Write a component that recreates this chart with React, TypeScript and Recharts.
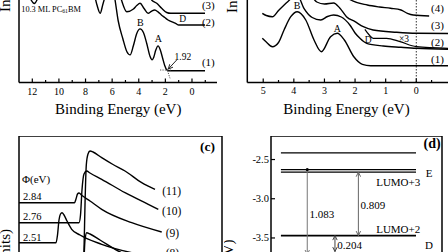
import React from 'react';
import { LineChart, Line, XAxis, YAxis, ReferenceLine, ReferenceDot } from 'recharts';

const SERIF = '"Liberation Serif", "DejaVu Serif", "Times New Roman", serif';
type P = [number, number];
const pts = (a: P[]) => a.map(([x, y]) => ({ x, y }));

// ---------- panel (a): binding energy (eV) vs intensity (arb.)
const aCurve1: P[] = [
  [-0.98, 0.59], [1.75, 0.59], [1.9, 0.64], [2.05, 0.85], [2.2, 1.2], [2.38, 1.62], [2.55, 1.83],
  [2.72, 1.62], [2.88, 1.25], [3.0, 1.13], [3.15, 1.3], [3.4, 1.95], [3.65, 2.5], [3.9, 2.68],
  [4.15, 2.45], [4.4, 1.85], [4.65, 1.38], [4.9, 1.55], [5.2, 2.2], [5.55, 3.1], [5.8, 4.2],
  [6.1, 5.1], [6.4, 4.6], [6.7, 3.9], [6.9, 3.46], [7.15, 3.9], [7.5, 4.9], [8.0, 5.6], [9.0, 6.1],
  [10.5, 5.6], [11.4, 4.5], [11.85, 3.95], [12.3, 4.4], [13.0, 5.6],
];
const aCurve2: P[] = [
  [-0.98, 2.875], [1.0, 2.875], [1.2, 2.94], [1.5, 3.03], [1.8, 3.125], [2.05, 3.25], [2.3, 3.375],
  [2.55, 3.53], [2.8, 3.625], [3.05, 3.56], [3.3, 3.46], [3.6, 3.7], [3.9, 3.96], [4.15, 3.85],
  [4.4, 3.675], [4.9, 3.54], [5.3, 4.125], [5.7, 5.1], [6.2, 6.0], [7.0, 5.4], [8.0, 6.5], [10, 7], [13, 7],
];
const aCurve3: P[] = [
  [-0.98, 3.46], [1.6, 3.46], [1.9, 3.5], [2.28, 3.71], [2.65, 3.96], [3.03, 4.125], [3.4, 4.6],
  [3.9, 5.2], [4.5, 5.0], [5.0, 5.6], [6.0, 7.0], [8, 7.5], [13, 7.5],
];
const aTicks = [-1, 0, 1, 2, 3, 4, 5, 6, 7, 8, 9, 10, 11, 12];
const aMajor = [0, 2, 4, 6, 8, 10, 12];
const aOnset = 1.92;

// ---------- panel (b)
const bCurve1: P[] = [
  [5.03, 2.21], [4.9, 2.025], [4.7, 1.79], [4.5, 2.0], [4.32, 2.625], [4.1, 3.29], [3.89, 3.54],
  [3.61, 3.125], [3.34, 2.125], [3.1, 1.54], [2.8, 2.29], [2.58, 2.46], [2.35, 2.125], [2.04, 1.29],
  [1.76, 0.91], [1.49, 0.84], [-1.04, 0.84],
];
const bCurve2: P[] = [
  [5.03, 3.46], [4.9, 3.35], [4.7, 3.29], [4.5, 3.6], [4.2, 4.04], [3.9, 4.4], [3.67, 3.71],
  [3.4, 3.25], [3.12, 3.125], [2.9, 3.3], [2.7, 3.375], [2.45, 3.275], [2.17, 2.875], [2.0, 2.475],
  [1.84, 2.21], [1.62, 1.96], [1.08, 1.825], [0.5, 1.76], [0, 1.71], [-1.04, 1.66],
];
const bCurve3: P[] = [
  [5.52, 5.5], [4.6, 5.3], [3.8, 4.9], [3.5, 4.5], [3.25, 4.025], [3.0, 3.925], [2.7, 3.975],
  [2.5, 3.725], [2.28, 3.29], [2.0, 3.04], [1.73, 2.79], [1.41, 2.625], [0.64, 2.51], [0, 2.46], [-1.04, 2.45],
];
const bCurve4: P[] = [
  [5.52, 6.5], [3.0, 5.5], [2.4, 4.4], [2.14, 4.125], [1.6, 3.875], [1.2, 3.775], [0.84, 3.71],
  [0.5, 3.625], [0.29, 3.46], [0.1, 3.375], [-0.42, 3.325],
];
const bTimes3: P[] = [
  [1.68, 2.66], [1.55, 2.4], [1.41, 2.21], [0.97, 2.21], [0.53, 2.04], [0, 1.79], [-1.04, 1.71],
];
const bTicks = [-0.5, 0, 0.5, 1, 1.5, 2, 2.5, 3, 3.5, 4, 4.5, 5];
const bMajor = [0, 1, 2, 3, 4, 5];

// ---------- panel (c): secondary electron cutoffs
const c11: P[] = [
  [0, 3.3], [3.153, 3.3], [3.202, 4.3], [3.251, 6.55], [3.315, 8.55], [3.399, 9.1], [3.498, 9.25],
  [3.645, 9.2], [4.074, 8.915], [4.631, 8.575], [5.222, 8.25], [6.044, 7.665], [6.7, 7.335],
];
const c10: P[] = [
  [0, 5.665], [2.956, 5.665], [3.03, 6.05], [3.103, 7.3], [3.202, 8.1], [3.335, 8.25], [3.498, 8.15],
  [4.074, 7.835], [5.222, 7.165], [6.369, 6.585], [6.862, 6.335],
];
const c9: P[] = [
  [0, 6.665], [2.734, 6.665], [2.808, 6.85], [2.882, 7.1], [2.956, 7.15], [3.103, 7.025],
  [3.498, 6.75], [4.074, 6.335], [5.552, 5.665], [7.03, 5.2],
];
const c8: P[] = [
  [0, 4.665], [1.823, 4.665], [1.897, 5.05], [1.97, 5.8], [2.044, 6.1], [2.118, 6.165], [2.217, 6.05],
  [2.365, 5.75], [2.596, 5.335], [3.005, 5.05], [4.074, 4.585], [5.552, 4.165], [7.03, 3.9],
];
const c7: P[] = [
  [0, 2.55], [3.153, 2.55], [3.202, 3.8], [3.251, 4.8], [3.335, 5.165], [3.498, 5.1], [3.99, 4.8],
  [4.975, 4.2], [6.453, 3.7],
];
const cWorkFunctions = ['2.84', '2.76', '2.51'];

// ---------- panel (d): energy levels (eV)
const dLevels = [-2.416, -2.628, -2.661, -3.47];
const dLevelSpan: [number, number] = [0.58, 8.48];
const dGap1083: [number, number] = [-2.628, -3.711];
const dGap0809: [number, number] = [-2.661, -3.47];
const dGap0204: [number, number] = [-3.47, -3.674];
const dTicks = [-3.5, -3.0, -2.5];

// ---------- helpers
type NoteOpt = { anchor?: 'start' | 'middle' | 'end'; size?: number; bold?: boolean; rotate?: number };
function note(key: string, x: number, y: number, content: React.ReactNode, o: NoteOpt = {}) {
  const lab = (p: any) => {
    const vb = p.viewBox || { x: 0, y: 0 };
    const cx = vb.x + (vb.width || 0) / 2;
    const cy = vb.y + (vb.height || 0) / 2;
    return (
      <text x={cx} y={cy} textAnchor={o.anchor || 'middle'} dominantBaseline="central"
        fill="#000" style={{ fontFamily: SERIF, fontSize: o.size || 11, fontWeight: o.bold ? 700 : 400 }}
        transform={o.rotate ? `rotate(${o.rotate} ${cx} ${cy})` : undefined}>{content}</text>
    );
  };
  return <ReferenceDot key={key} x={x} y={y} r={0} ifOverflow="visible" fill="none" stroke="none" label={lab} />;
}

const arrowShape = (heads: string, color: string, w: number, dash?: string) => (p: any) => {
  const { x1, y1, x2, y2 } = p;
  const a = Math.atan2(y2 - y1, x2 - x1);
  const L = 4.5, H = 2.2;
  const head = (x: number, y: number, ang: number) => {
    const bx = x - L * Math.cos(ang), by = y - L * Math.sin(ang);
    const nx = -Math.sin(ang) * H, ny = Math.cos(ang) * H;
    return `M${bx + nx},${by + ny} L${x},${y} L${bx - nx},${by - ny} `;
  };
  let d = '';
  if (heads === 'end' || heads === 'both') d += head(x2, y2, a);
  if (heads === 'start' || heads === 'both') d += head(x1, y1, a + Math.PI);
  return (
    <g>
      <line x1={x1} y1={y1} x2={x2} y2={y2} stroke={color} strokeWidth={w} strokeDasharray={dash} />
      {d && <path d={d} fill="none" stroke={color} strokeWidth={w} />}
    </g>
  );
};
function seg(key: string, x1: number, y1: number, x2: number, y2: number,
  o: { color?: string; w?: number; dash?: string; heads?: string } = {}) {
  return (
    <ReferenceLine key={key} segment={[{ x: x1, y: y1 }, { x: x2, y: y2 }]} ifOverflow="visible"
      shape={arrowShape(o.heads || 'none', o.color || '#000', o.w || 1.2, o.dash)} />
  );
}

const xTick = (major: number[], size: number, dy: number) => (p: any) => {
  const v = p.payload.value;
  const isMajor = major.some((m) => Math.abs(m - v) < 1e-9);
  return (
    <g>
      <line x1={p.x} x2={p.x} y1={p.y} y2={p.y - (isMajor ? 4 : 2.5)} stroke="#000" strokeWidth={1.2} />
      {isMajor && (
        <text x={p.x} y={p.y + dy} textAnchor="middle" dominantBaseline="central"
          style={{ fontFamily: SERIF, fontSize: size }} fill="#000">{String(v)}</text>
      )}
    </g>
  );
};
const yTickD = (p: any) => {
  const v = p.payload.value as number;
  return (
    <g>
      <line x1={p.x} x2={p.x + 4} y1={p.y} y2={p.y} stroke="#000" strokeWidth={1.2} />
      <text x={p.x - 2} y={p.y} textAnchor="end" dominantBaseline="central"
        style={{ fontFamily: SERIF, fontSize: 10.5 }} fill="#000">{v.toFixed(1)}</text>
    </g>
  );
};

const AX = { stroke: '#000', strokeWidth: 1.5 };
const curve = (key: string, data: P[], w = 1.4) => (
  <Line key={key} data={pts(data)} dataKey="y" type="monotone" dot={false} activeDot={false}
    stroke="#000" strokeWidth={w} isAnimationActive={false} />
);

function PanelA() {
  return (
    <LineChart width={224} height={262} margin={{ top: 0, right: 7, bottom: 0, left: 0 }}>
      <XAxis type="number" dataKey="x" domain={[-1.88, 13]} reversed allowDataOverflow ticks={aTicks}
        interval={0} tickSize={0} tickMargin={0} tickLine={false} axisLine={AX} height={39.5}
        tick={xTick(aMajor, 10, 8.5)} />
      <YAxis type="number" domain={[0, 11.125]} allowDataOverflow width={19} tick={false} tickLine={false} axisLine={AX} />
      {curve('a1', aCurve1)}
      {curve('a2', aCurve2)}
      {curve('a3', aCurve3)}
      {seg('ad1', 2.4, 0.625, 1.55, 0.625, { color: '#555', w: 1, dash: '1.2 1.2' })}
      {seg('ad2', 1.9, 0.71, 1.65, 0.21, { color: '#555', w: 1, dash: '1.2 1.2' })}
      {seg('aarr', 1.15, 1.125, 1.78, 0.675, { color: '#222', w: 1, heads: 'end' })}
      {note('a192', 0.68, 1.29, String(aOnset), { size: 9.5 })}
      {note('aA', 2.53, 2.21, 'A', { size: 10 })}
      {note('aB', 3.89, 3.025, 'B', { size: 10 })}
      {note('aD', 0.7, 3.16, 'D', { size: 9.5 })}
      {note('a1l', -1.23, 1.04, '(1)')}
      {note('a2l', -1.23, 3.04, '(2)')}
      {note('a3l', -1.23, 3.875, '(3)')}
      {note('apc', 12.83, 3.675, <>10.3 ML PC<tspan style={{ fontSize: 5.8 }} dy={2}>61</tspan><tspan dy={-2}>BM</tspan></>, { anchor: 'start', size: 8.3 })}
      {note('ay', 14.06, 3.525, 'Intensity (arb. units)', { anchor: 'start', size: 15, rotate: -90 })}
      {note('ax', 5.54, -1.315, 'Binding Energy (eV)', { size: 15 })}
    </LineChart>
  );
}

function PanelB() {
  return (
    <LineChart width={240} height={262} margin={{ top: 0, right: 4, bottom: 0, left: 0 }}>
      <XAxis type="number" dataKey="x" domain={[-1.428, 5.52]} reversed allowDataOverflow ticks={bTicks}
        interval={0} tickSize={0} tickMargin={0} tickLine={false} axisLine={AX} height={39.5}
        tick={xTick(bMajor, 10, 8)} />
      <YAxis type="number" domain={[0, 11.125]} allowDataOverflow width={23.3} tick={false} tickLine={false} axisLine={AX} />
      <ReferenceLine x={0} stroke="#333" strokeWidth={1} strokeDasharray="1.5 1.5" ifOverflow="visible" />
      {curve('b1', bCurve1)}
      {curve('b2', bCurve2)}
      {curve('b3', bCurve3)}
      {curve('b4', bCurve4)}
      {curve('bx3', bTimes3, 1.2)}
      {note('bB', 3.89, 3.875, 'B', { size: 10 })}
      {note('bA', 2.58, 2.71, 'A', { size: 10 })}
      {note('bD', 1.57, 2.125, 'D', { size: 9.5 })}
      {note('bx', 0.4, 2.165, '×3', { size: 9.5 })}
      {note('b1l', -0.69, 1.16, '(1)')}
      {note('b2l', -0.69, 2.01, '(2)')}
      {note('b3l', -0.69, 2.875, '(3)')}
      {note('b4l', -0.69, 3.71, '(4)')}
      {note('by', 6.01, 3.475, 'Intensity (arb. units)', { anchor: 'start', size: 15, rotate: -90 })}
      {note('bxl', 2.28, -1.315, 'Binding Energy (eV)', { size: 15 })}
    </LineChart>
  );
}

function PanelC() {
  return (
    <LineChart width={224} height={200} margin={{ top: 0, right: 2, bottom: 0, left: 0 }}>
      <XAxis type="number" dataKey="x" domain={[0, 10]} allowDataOverflow hide />
      <YAxis type="number" domain={[0, 10]} allowDataOverflow width={19} tick={false} tickLine={false} axisLine={AX} />
      <ReferenceLine y={10} stroke="#000" strokeWidth={1.5} ifOverflow="visible" />
      <ReferenceLine x={10} stroke="#000" strokeWidth={1.5} ifOverflow="visible" />
      {curve('c11', c11)}
      {curve('c10', c10)}
      {curve('c9', c9)}
      {curve('c8', c8)}
      {curve('c7', c7)}
      {note('cphi', 0.15, 7.835, 'Φ(eV)', { anchor: 'start', size: 11 })}
      {note('cw1', 0.2, 6.965, cWorkFunctions[0], { anchor: 'start', size: 10.5 })}
      {note('cw2', 0.2, 5.965, cWorkFunctions[1], { anchor: 'start', size: 10.5 })}
      {note('cw3', 0.2, 4.915, cWorkFunctions[2], { anchor: 'start', size: 10.5 })}
      {note('c11l', 7.52, 7.25, '(11)', { size: 11.5 })}
      {note('c10l', 7.52, 6.25, '(10)', { size: 11.5 })}
      {note('c9l', 7.56, 5.165, '(9)', { size: 11.5 })}
      {note('c8l', 7.56, 4.15, '(8)', { size: 11.5 })}
      {note('clab', 9.29, 9.46, '(c)', { size: 13.5, bold: true })}
      {note('cy', -0.69, 5.35, 'Intensity (arb. units)', { anchor: 'end', size: 15, rotate: -90 })}
    </LineChart>
  );
}

function PanelD() {
  return (
    <LineChart width={224} height={200} margin={{ top: 0, right: 6, bottom: 0, left: 0 }}>
      <XAxis type="number" dataKey="x" domain={[0, 10]} allowDataOverflow hide />
      <YAxis type="number" domain={[-4.75, -2.2]} allowDataOverflow width={47} ticks={dTicks} interval={0}
        tickSize={0} tickMargin={0} tickLine={false} axisLine={AX} tick={yTickD} />
      <ReferenceLine y={-2.2} stroke="#000" strokeWidth={1.5} ifOverflow="visible" />
      <ReferenceLine x={10} stroke="#000" strokeWidth={1.5} ifOverflow="visible" />
      {dLevels.map((lv, i) => seg(`lv${i}`, dLevelSpan[0], lv, dLevelSpan[1], lv, { w: i === 3 ? 1.6 : 1.3 }))}
      {seg('g1', 2.12, dGap1083[0], 2.12, dGap1083[1], { color: '#777', w: 1, heads: 'end' })}
      {seg('g2', 5.11, dGap0809[0], 5.11, dGap0809[1], { color: '#666', w: 1, heads: 'both' })}
      {seg('g3', 3.74, dGap0204[0], 3.74, dGap0204[1], { color: '#444', w: 1, heads: 'both' })}
      <ReferenceDot x={2.12} y={dGap1083[0]} r={1.6} fill="#000" stroke="none" ifOverflow="visible" />
      {note('d1083', 2.25, -3.2, '1.083', { anchor: 'start', size: 11 })}
      {note('d0809', 5.24, -3.083, '0.809', { anchor: 'start', size: 11 })}
      {note('d0204', 3.88, -3.584, '0.204', { anchor: 'start', size: 11 })}
      {note('dE', 9.24, -2.671, 'E', { size: 11 })}
      {note('dL3', 7.44, -2.79, 'LUMO+3', { size: 11 })}
      {note('dL2', 7.44, -3.39, 'LUMO+2', { size: 11 })}
      {note('dD', 9.24, -3.584, 'D', { size: 11 })}
      {note('dlab', 9.42, -2.298, '(d)', { size: 14, bold: true })}
      {note('dy', -2.51, -3.52, 'Energy (eV)', { anchor: 'end', size: 15, rotate: -90 })}
    </LineChart>
  );
}

export default function App() {
  return (
    <div style={{ position: 'fixed', left: 0, top: 0, width: 448, height: 252, overflow: 'hidden', background: '#fff', fontFamily: SERIF }}>
      <div style={{ position: 'absolute', left: 0, top: -140 }}><PanelA /></div>
      <div style={{ position: 'absolute', left: 224, top: -140 }}><PanelB /></div>
      <div style={{ position: 'absolute', left: 0, top: 136 }}><PanelC /></div>
      <div style={{ position: 'absolute', left: 224, top: 136 }}><PanelD /></div>
    </div>
  );
}
